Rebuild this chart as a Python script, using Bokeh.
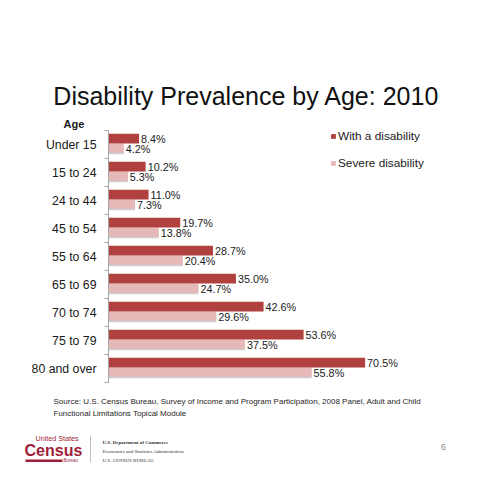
from bokeh.plotting import figure
from bokeh.layouts import column, row
from bokeh.models import (Range1d, FixedTicker, ColumnDataSource, Label, Legend,
                          LegendItem, BoxAnnotation)
from bokeh.transform import dodge
from bokeh.core.properties import value
from bokeh.embed import file_html
from bokeh.resources import INLINE

# ---------------- data ----------------
ages = ["Under 15", "15 to 24", "24 to 44", "45 to 54", "55 to 64",
        "65 to 69", "70 to 74", "75 to 79", "80 and over"]
with_disability = [8.4, 10.2, 11.0, 19.7, 28.7, 35.0, 42.6, 53.6, 70.5]
severe_disability = [4.2, 5.3, 7.3, 13.8, 20.4, 24.7, 29.6, 37.5, 55.8]
series_names = ["With a disability", "Severe disability"]
title_text = "Disability Prevalence by Age: 2010"
axis_title = "Age"
source_lines = [
    "Source:  U.S. Census Bureau, Survey of Income and Program Participation, 2008 Panel, Adult and Child",
    "Functional Limitations Topical Module",
]
logo_lines = ["United States", "Census", "Bureau"]
dept_lines = ["U.S. Department of Commerce", "Economics and Statistics Administration", "U.S. CENSUS BUREAU"]
page_number = "6"

# ---------------- styles ----------------
DARK = "#B0413E"
LIGHT = "#E6B9B8"
SHADOW = "#CDCDCD"
TXT = "#1A1A1A"
LOGO = "#9E1F3A"
FONT = "Liberation Sans"
SERIF = "Liberation Serif"

W = 495
HEAD_H = 130                 # header strip: page y 0..130
MAIN_TOP, MAIN_H = 130, 260  # main strip: page y 130..390
FOOT_TOP, FOOT_H = 390, 105  # footer strip: page y 390..495
FL, FR = 108, 472            # frame left/right (page px)
FT, FB = 130, 388            # frame top/bottom (page px)
AX_TOP, AX_BOT = 130, 382    # category axis extent (page px)

n = len(ages)
band = (AX_BOT - AX_TOP) / n
ypos = [n - i - 0.5 for i in range(n)]   # first category at the top


def blank(height):
    f = figure(width=W, height=height, output_backend="svg", toolbar_location=None,
               x_range=Range1d(0, 1), y_range=Range1d(0, 1),
               x_axis_location=None, y_axis_location=None,
               min_border=0, min_border_left=0, min_border_right=0,
               min_border_top=0, min_border_bottom=0)
    f.outline_line_color = None
    f.grid.visible = False
    return f


def add_label(fig, text, x, y, size, font=FONT, color=TXT, align="left",
              baseline="middle", style="normal"):
    fig.add_layout(Label(x=x, y=y, x_units="screen", y_units="screen",
                         text=text, text_font=font, text_font_size=size,
                         text_color=color, text_align=align, text_baseline=baseline,
                         text_font_style=style))


# ---------------- header ----------------
head = blank(HEAD_H)
add_label(head, title_text, 246, HEAD_H - 95, "25px", baseline="alphabetic",
          align="center", color="#111111")
add_label(head, axis_title, 63, HEAD_H - 123, "11px", style="bold")

# ---------------- main chart ----------------
p = figure(width=W, height=MAIN_H, output_backend="svg", toolbar_location=None,
           x_range=Range1d(0, 100),
           y_range=Range1d(-(FB - AX_BOT) / band, n + (AX_TOP - FT) / band),
           x_axis_location=None,
           min_border_left=FL, min_border_right=W - FR,
           min_border_top=FT - MAIN_TOP, min_border_bottom=MAIN_TOP + MAIN_H - FB)
p.outline_line_color = None
p.grid.visible = False

yax = p.yaxis[0]
yax.ticker = FixedTicker(ticks=ypos, minor_ticks=list(range(n + 1)))
yax.major_label_overrides = {y: a for y, a in zip(ypos, ages)}
yax.bounds = (0, n)
yax.major_tick_line_color = None
yax.major_tick_in = 0
yax.major_tick_out = 0
yax.minor_tick_in = 0
yax.minor_tick_out = 4
yax.minor_tick_line_color = "#A6A6A6"
yax.axis_line_color = "#A6A6A6"
yax.major_label_text_font = FONT
yax.major_label_text_font_size = "12.3px"
yax.major_label_text_color = TXT
yax.major_label_standoff = 8

src = ColumnDataSource(dict(
    y=ypos, wd=with_disability, sd=severe_disability,
    wd_lbl=[f"{v:.1f}%" for v in with_disability],
    sd_lbl=[f"{v:.1f}%" for v in severe_disability],
))

p.hbar(y=dodge("y", -0.18), left=0, right="sd", height=0.33,
       fill_color=SHADOW, line_color=None, source=src)
light = p.hbar(y=dodge("y", -0.13), left=0, right="sd", height=0.33,
               fill_color=LIGHT, line_color=None, source=src)
dark = p.hbar(y=dodge("y", 0.21), left=0, right="wd", height=0.35,
              fill_color=DARK, line_color=None, source=src)

p.text(x="wd", y=dodge("y", 0.21), text="wd_lbl", source=src,
       x_offset=2, text_baseline="middle", text_align="left",
       text_font=value(FONT), text_font_size="10.8px", text_color=TXT)
p.text(x="sd", y=dodge("y", -0.15), text="sd_lbl", source=src,
       x_offset=2, text_baseline="middle", text_align="left",
       text_font=value(FONT), text_font_size="10.8px", text_color=TXT)

legend = Legend(items=[LegendItem(label=series_names[0], renderers=[dark]),
                       LegendItem(label=series_names[1], renderers=[light])],
                location=(330 - FL, FB - 170), orientation="vertical",
                glyph_width=6, glyph_height=6, label_height=14, spacing=13,
                label_standoff=2, padding=0, margin=0,
                label_text_font=FONT, label_text_font_size="11.8px", label_text_color=TXT,
                border_line_color=None, background_fill_alpha=0)
p.add_layout(legend)

# ---------------- footer ----------------
foot = blank(FOOT_H)


def fy(py):
    return FOOT_TOP + FOOT_H - py


add_label(foot, source_lines[0], 53, fy(401), "8px", color="#262626")
add_label(foot, source_lines[1], 53, fy(413), "8px", color="#262626")

add_label(foot, logo_lines[0], 35, fy(438), "7.2px", color=LOGO)
add_label(foot, logo_lines[1], 24, fy(450), "16px", color=LOGO, style="bold")
add_label(foot, logo_lines[2], 63, fy(460), "4.5px", color=LOGO)
foot.add_layout(BoxAnnotation(left=25, right=62, top=fy(459), bottom=fy(461.5),
                              left_units="screen", right_units="screen",
                              top_units="screen", bottom_units="screen",
                              fill_color=LOGO, fill_alpha=1, line_color=None))
foot.add_layout(BoxAnnotation(left=89.5, right=90.5, top=fy(435), bottom=fy(462),
                              left_units="screen", right_units="screen",
                              top_units="screen", bottom_units="screen",
                              fill_color="#BFBFBF", fill_alpha=1, line_color=None))
add_label(foot, dept_lines[0], 102, fy(442), "5px", font=SERIF, style="bold", color="#333333")
add_label(foot, dept_lines[1], 102, fy(451), "5px", font=SERIF, color="#333333")
add_label(foot, dept_lines[2], 102, fy(460), "5px", font=SERIF, color="#333333")
add_label(foot, page_number, 443, fy(446), "9px", color="#8C8C8C", align="center")

page = column(row(head), p, row(foot), spacing=0)
open("out.html", "w").write(file_html(page, INLINE))
